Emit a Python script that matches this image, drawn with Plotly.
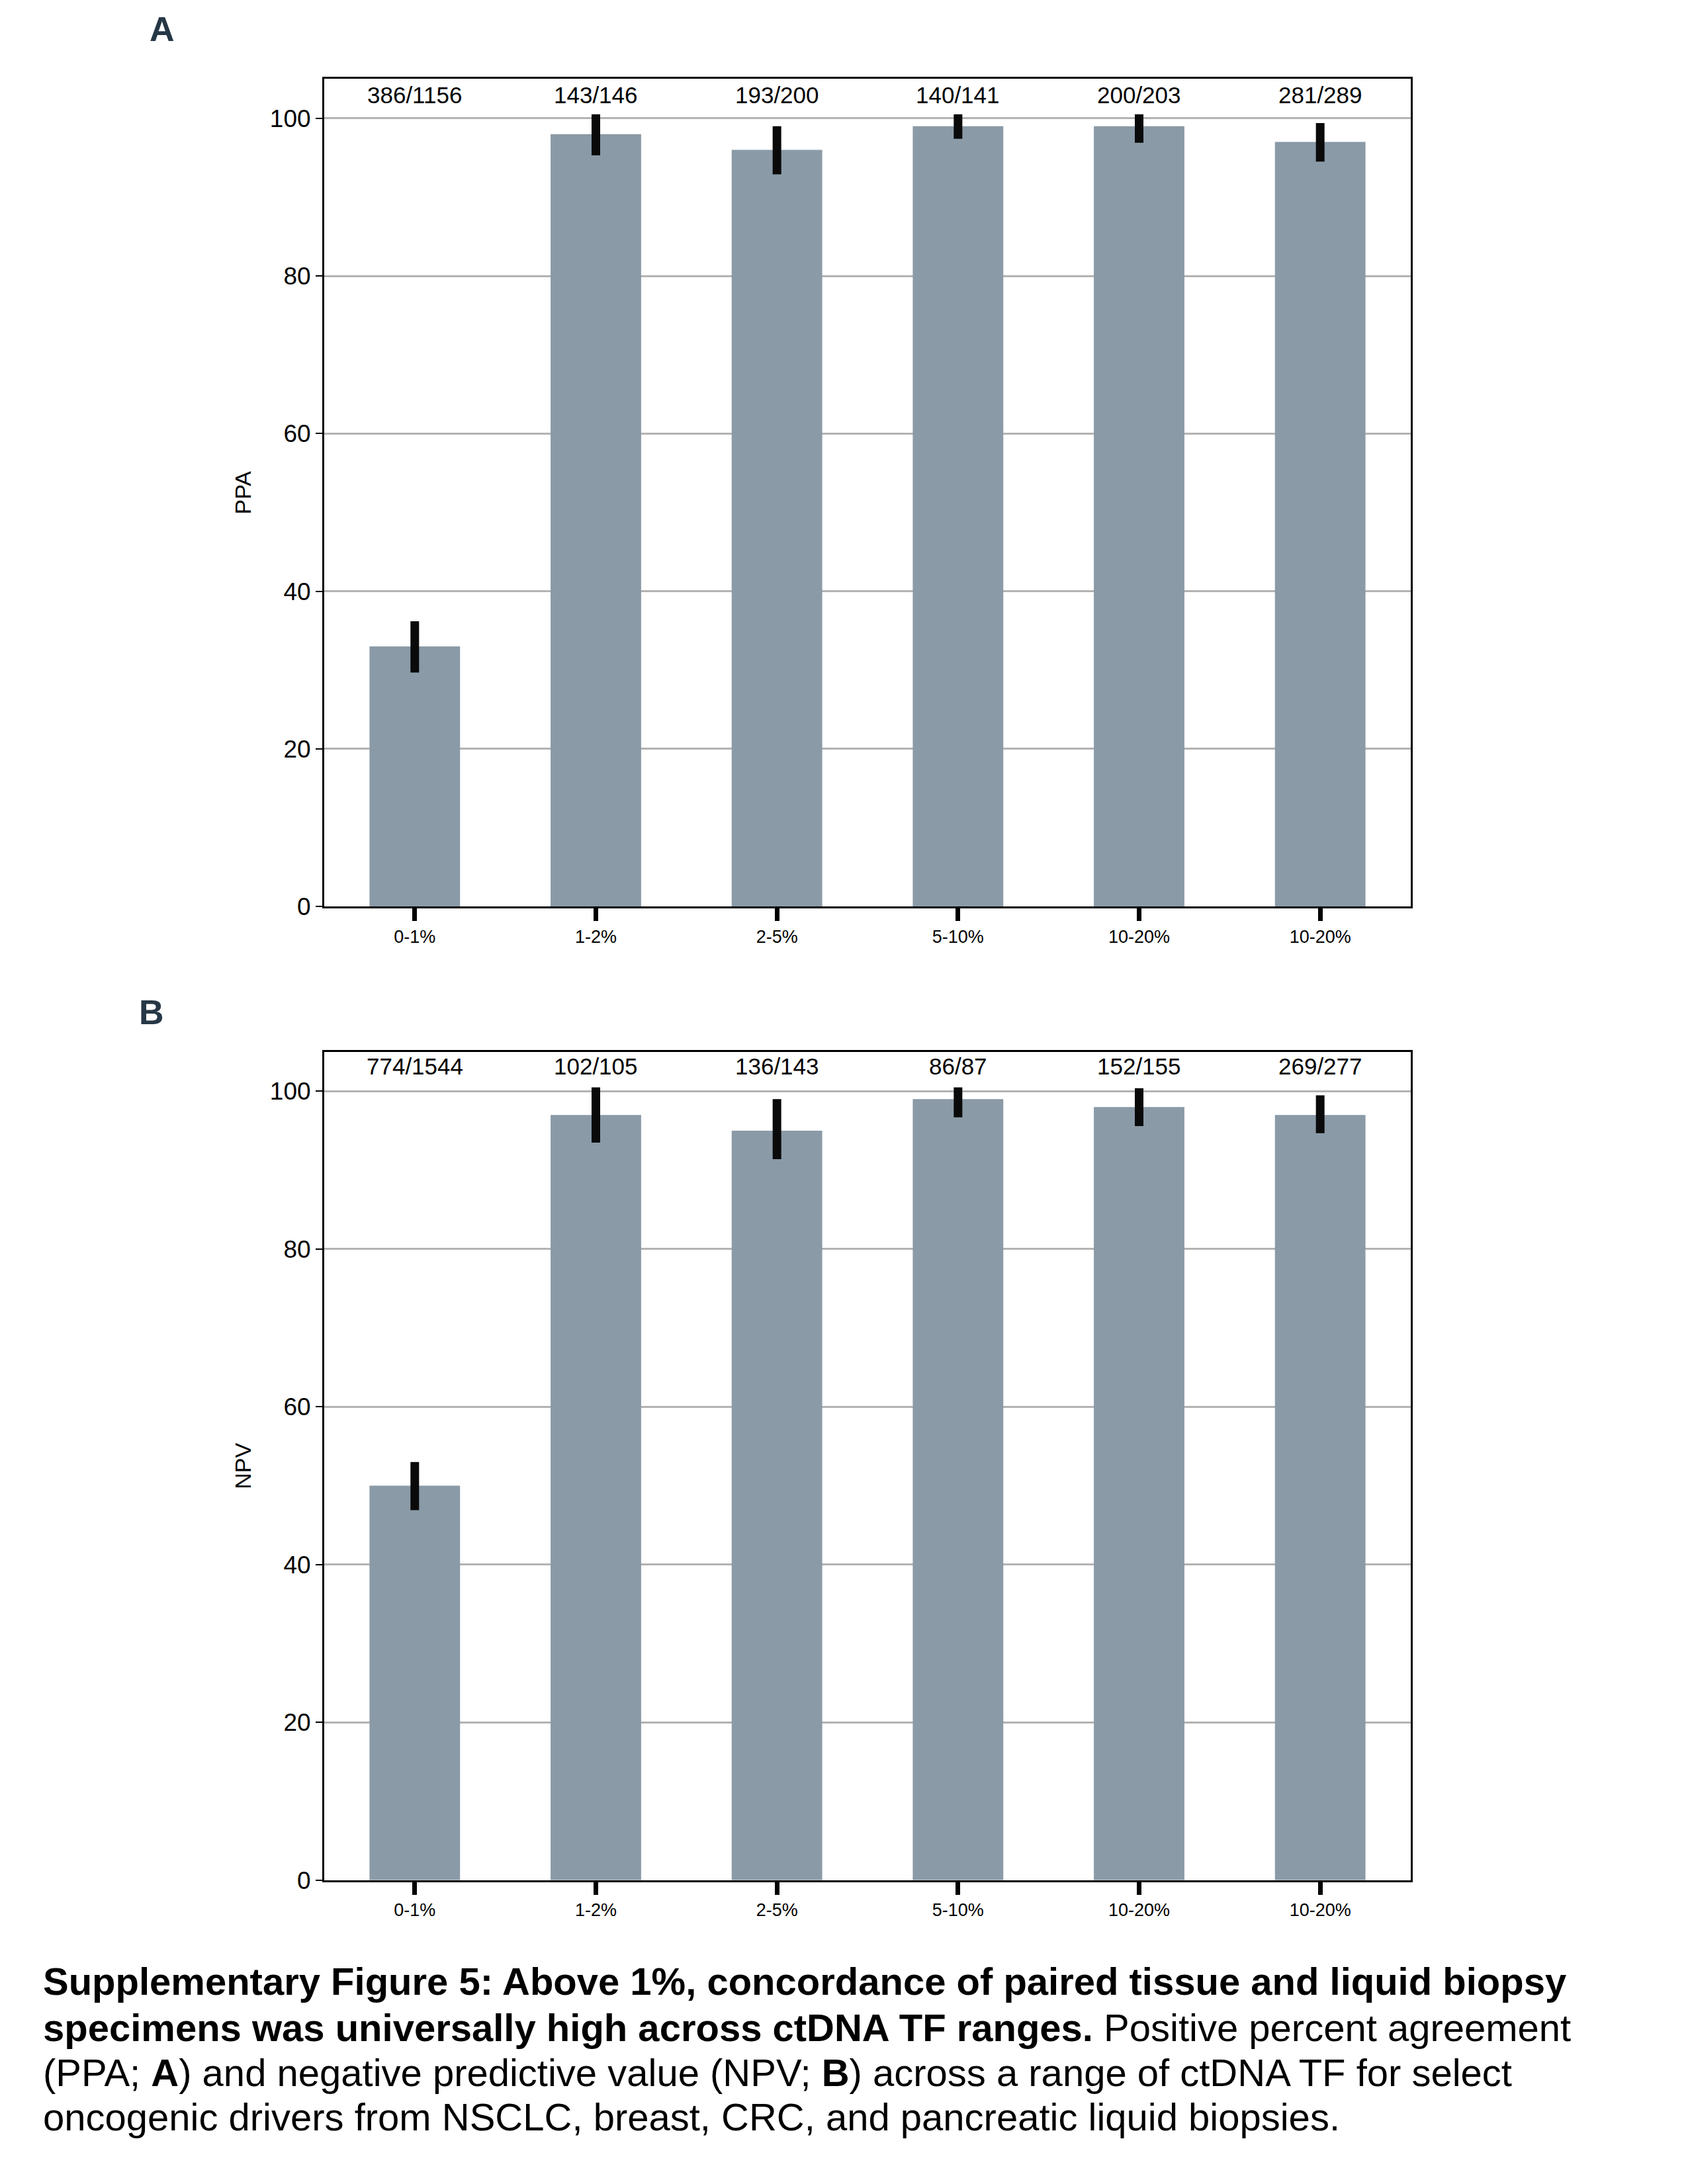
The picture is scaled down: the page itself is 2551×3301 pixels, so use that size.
import plotly.graph_objects as go

# ---- data ----
categories = ["0-1%", "1-2%", "2-5%", "5-10%", "10-20%", "10-20%"]

ppa_values = [33.0, 98.0, 96.0, 99.0, 99.0, 97.0]
ppa_upper = [36.2, 100.5, 99.0, 100.5, 100.5, 99.4]
ppa_lower = [29.7, 95.3, 92.9, 97.4, 96.9, 94.5]
ppa_counts = ["386/1156", "143/146", "193/200", "140/141", "200/203", "281/289"]

npv_values = [50.0, 97.0, 95.0, 99.0, 98.0, 97.0]
npv_upper = [53.0, 100.5, 99.0, 100.5, 100.4, 99.5]
npv_lower = [46.9, 93.5, 91.4, 96.7, 95.6, 94.7]
npv_counts = ["774/1544", "102/105", "136/143", "86/87", "152/155", "269/277"]

y_ticks = [0, 20, 40, 60, 80, 100]

caption_lines = [
    "<b>Supplementary Figure 5: Above 1%, concordance of paired tissue and liquid biopsy</b>",
    "<b>specimens was universally high across ctDNA TF ranges.</b> Positive percent agreement",
    "(PPA; <b>A</b>) and negative predictive value (NPV; <b>B</b>) across a range of ctDNA TF for select",
    "oncogenic drivers from NSCLC, breast, CRC, and pancreatic liquid biopsies.",
]

FONT = "Liberation Sans, Arial, Helvetica, sans-serif"
BAR_COLOR = "#8A9AA7"
ERR_COLOR = "#0a0a0a"
GRID_COLOR = "#b3b3b3"
LABEL_COLOR = "#263746"

W, H = 2551, 3301
x_dom = [490 / W, 2132 / W]
dom_a = [1 - 1379 / H, 1 - 120 / H]
dom_b = [1 - 2860 / H, 1 - 1600 / H]

xpos = list(range(len(categories)))

fig = go.Figure()


def add_panel(values, upper, lower, xa, ya):
    fig.add_trace(go.Bar(
        x=xpos, y=values, width=0.5,
        marker=dict(color=BAR_COLOR, line=dict(width=0)),
        error_y=dict(
            type="data", symmetric=False,
            array=[u - v for u, v in zip(upper, values)],
            arrayminus=[v - l for v, l in zip(values, lower)],
            color=ERR_COLOR, thickness=13, width=0,
        ),
        xaxis=xa, yaxis=ya, showlegend=False, hoverinfo="skip",
    ))


add_panel(ppa_values, ppa_upper, ppa_lower, "x", "y")
add_panel(npv_values, npv_upper, npv_lower, "x2", "y2")

xaxis_common = dict(
    range=[-0.5, len(categories) - 0.5],
    tickmode="array", tickvals=xpos, ticktext=categories,
    ticks="outside", ticklen=19, tickwidth=7, tickcolor="black",
    tickfont=dict(family=FONT, size=27, color="black"),
    showline=True, linecolor="black", linewidth=3, mirror=True,
    showgrid=False, zeroline=False, fixedrange=True,
)
yaxis_common = dict(
    range=[0, 105],
    tickmode="array", tickvals=y_ticks,
    ticks="outside", ticklen=10, tickwidth=2, tickcolor="black",
    tickfont=dict(family=FONT, size=37, color="black"),
    showline=True, linecolor="black", linewidth=3, mirror=True,
    showgrid=True, gridcolor=GRID_COLOR, gridwidth=3,
    zeroline=False, fixedrange=True,
)

fig.update_layout(
    width=W, height=H,
    margin=dict(l=0, r=0, t=0, b=0),
    paper_bgcolor="white", plot_bgcolor="white",
    font=dict(family=FONT, color="black"),
    xaxis=dict(domain=x_dom, anchor="y", **xaxis_common),
    yaxis=dict(domain=dom_a, anchor="x",
               title=dict(text="PPA", font=dict(family=FONT, size=34, color="black"), standoff=18),
               **yaxis_common),
    xaxis2=dict(domain=x_dom, anchor="y2", **xaxis_common),
    yaxis2=dict(domain=dom_b, anchor="x2",
                title=dict(text="NPV", font=dict(family=FONT, size=34, color="black"), standoff=18),
                **yaxis_common),
)

annotations = []
for i, t in enumerate(ppa_counts):
    annotations.append(dict(x=xpos[i], y=103, xref="x", yref="y", text=t, showarrow=False,
                            font=dict(family=FONT, size=35, color="black"), yanchor="middle"))
for i, t in enumerate(npv_counts):
    annotations.append(dict(x=xpos[i], y=103.2, xref="x2", yref="y2", text=t, showarrow=False,
                            font=dict(family=FONT, size=35, color="black"), yanchor="middle"))

annotations.append(dict(x=245 / W, y=1 - 44 / H, xref="paper", yref="paper", text="<b>A</b>",
                        showarrow=False, font=dict(family=FONT, size=52, color=LABEL_COLOR),
                        xanchor="center", yanchor="middle"))
annotations.append(dict(x=229 / W, y=1 - 1540 / H, xref="paper", yref="paper", text="<b>B</b>",
                        showarrow=False, font=dict(family=FONT, size=52, color=LABEL_COLOR),
                        xanchor="center", yanchor="middle"))

caption_centers = [3014, 3084, 3153, 3220]
for line, cy in zip(caption_lines, caption_centers):
    annotations.append(dict(x=63 / W, y=1 - cy / H, xref="paper", yref="paper", text=line,
                            showarrow=False, align="left", xanchor="left", yanchor="middle",
                            font=dict(family=FONT, size=58, color="black")))

fig.update_layout(annotations=annotations)

fig.write_html("out.html")
